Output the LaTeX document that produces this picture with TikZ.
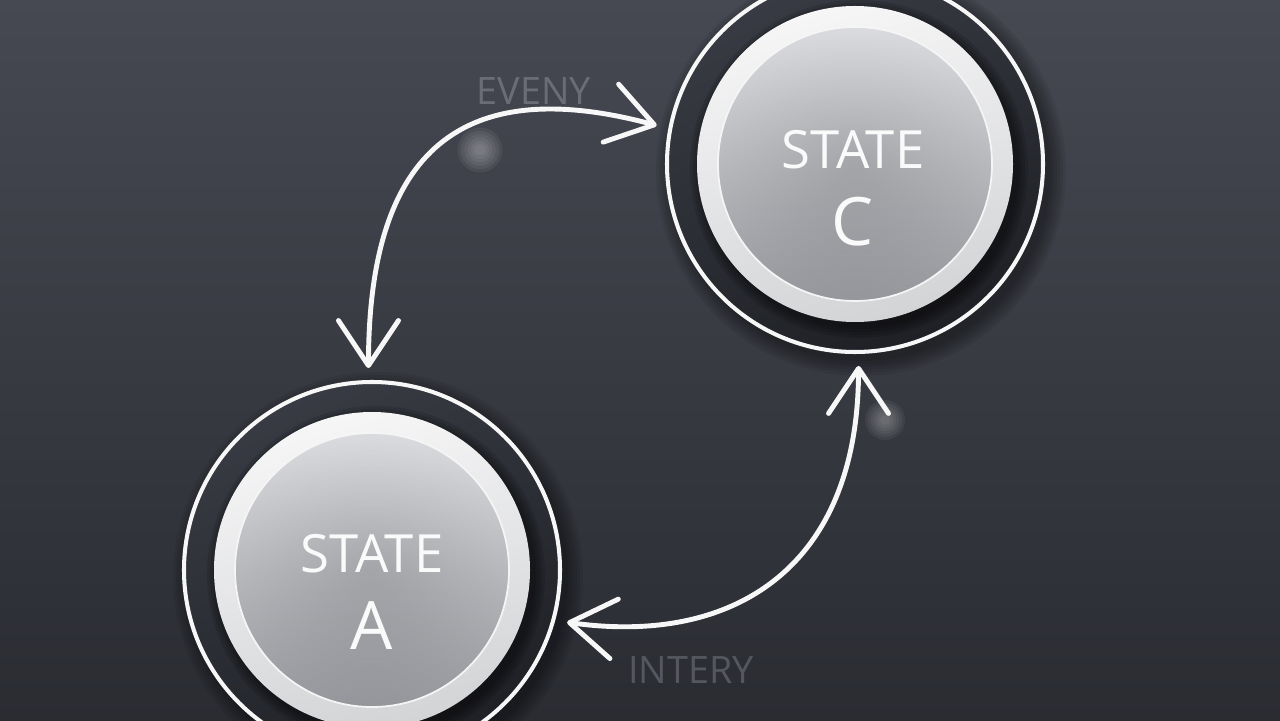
\documentclass[tikz,border=0pt]{standalone}
\usepackage{fontspec}
\setmainfont{Open Sans}
\usetikzlibrary{arrows.meta,calc}

\definecolor{bgtop}{HTML}{464952}
\definecolor{bgbot}{HTML}{2A2C32}
\definecolor{bandA}{HTML}{383B43}
\definecolor{bandB}{HTML}{1E2025}
\definecolor{bezelT}{HTML}{F6F6F7}
\definecolor{bezelB}{HTML}{D3D4D6}
\definecolor{innerT}{HTML}{D8D9DC}
\definecolor{innerB}{HTML}{8C8E93}
\definecolor{evc}{HTML}{6A6D76}
\definecolor{inc}{HTML}{54575F}
\definecolor{linec}{HTML}{F7F7F8}

\newcommand{\stdisc}[1]{%
  \foreach \rr in {3.80,3.86,3.92,3.98,4.04,4.10}
    \fill[black,opacity=0.07] ($#1+(0.12,-0.14)$) circle (\rr);
  \shade[top color=bandA,bottom color=bandB,shading angle=25] #1 circle (3.74);
  \foreach \rr in {3.20,3.26,3.32,3.38}
    \fill[black,opacity=0.12] ($#1+(0.08,-0.10)$) circle (\rr);
  \shade[top color=bezelT,bottom color=bezelB,shading angle=15] #1 circle (3.16);
  \shade[top color=innerT,bottom color=innerB] #1 circle (2.74);
  \shade[inner color=black,outer color=white,opacity=0.08] #1 circle (2.74);
  \draw[white!92!gray,line width=1pt] #1 circle (2.74);
}
\newcommand{\glowspot}[3]{%
  \foreach \rr in {1,0.85,0.7,0.55,0.4,0.25}
    \fill[white,opacity=#3] #1 circle ({#2*\rr});
}

\tikzset{
  ring/.style={circle,draw=linec,line width=2.3pt,minimum size=7.52cm,inner sep=0pt,outer sep=0.28cm},
  stname/.style={text=white!96!gray,align=center,font=\fontsize{38}{44}\selectfont},
  lbl/.style={font=\fontsize{21.5}{24}\selectfont,inner sep=0pt},
  conn/.style={draw=linec,line width=2.8pt,line cap=round,>={Straight Barb[length=0.9cm,width=1.2cm,round]},<->},
}

\begin{document}
\begin{tikzpicture}
\useasboundingbox (0,0) rectangle (25.6,14.4);
\shade[top color=bgtop,bottom color=bgbot] (0,0) rectangle (25.6,14.4);

% soft glows
\glowspot{(9.6,11.4)}{0.45}{0.06}
\glowspot{(17.7,6.0)}{0.4}{0.05}
\glowspot{(18.0,14.4)}{0.6}{0.05}

\stdisc{(17.10,11.12)}
\stdisc{(7.44,3.00)}

\node[ring] (C) at (17.10,11.12) {};
\node[ring] (A) at (7.44,3.00) {};

\node[stname] (Ct) at (17.06,10.64) {{\fontsize{30}{44}\selectfont STATE}\\C};
\node[stname] (At) at (7.44,2.56) {{\fontsize{30}{44}\selectfont STATE}\\A};

\draw[conn] (C.169) to[out=165,in=90,out distance=4cm,in distance=4.4cm] (A.91);
\draw[conn] (A.-15) to[out=-8,in=-90,out distance=3.4cm,in distance=4cm] (C.-89.5);

\node[lbl,text=evc] (ev) at (10.68,12.57) {EVENY};
\node[lbl,text=inc] (it) at (13.82,1.00) {INTERY};
\end{tikzpicture}
\end{document}
